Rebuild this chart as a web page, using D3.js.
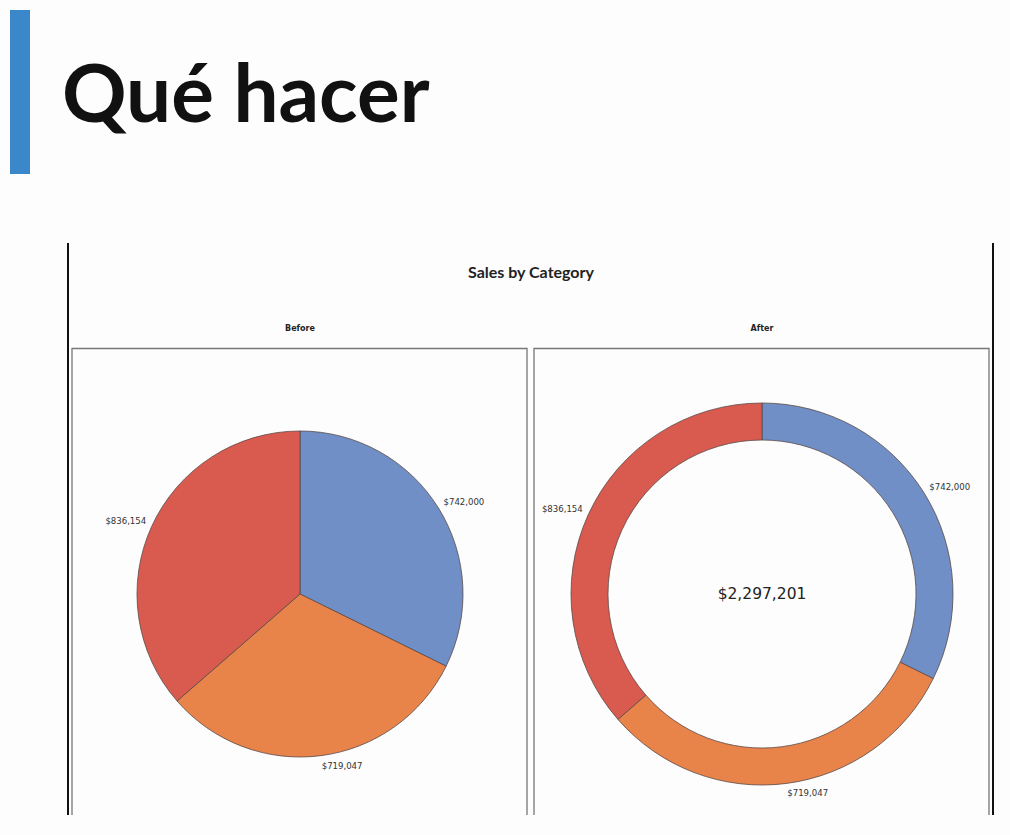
<!DOCTYPE html>
<html>
<head>
<meta charset="utf-8">
<script src="https://cdn.jsdelivr.net/npm/d3@7"></script>
<style>
  body { margin: 0; background: #fdfdfd; }
  svg { display: block; }
</style>
</head>
<body>
<svg id="chart" width="1010" height="835"></svg>
<script>
// data
const categories = ['A', 'B', 'C']
const sales = [742000, 719047, 836154]
const sliceColors = ['#6f8fc6', '#e8834a', '#d95a4e']
const panelTitles = ['Before', 'After']

const fmt = d3.format('$,')
const total = d3.sum(sales)

const svg = d3.select('#chart')

// slide header
svg.append('rect').attr('x', 10).attr('y', 10).attr('width', 20).attr('height', 164).attr('fill', '#3a88c9')
svg.append('text').attr('x', 62).attr('y', 122)
	.attr('font-family', 'Lato').attr('font-weight', 700).attr('font-size', 80)
	.attr('fill', '#111').text('Qué hacer')

// dashboard frame
svg.append('line').attr('x1', 68).attr('x2', 68).attr('y1', 243).attr('y2', 815).attr('stroke', '#111').attr('stroke-width', 2)
svg.append('line').attr('x1', 993).attr('x2', 993).attr('y1', 243).attr('y2', 815).attr('stroke', '#111').attr('stroke-width', 2)

svg.append('text').attr('x', 531).attr('y', 278).attr('text-anchor', 'middle')
	.attr('font-family', 'Lato').attr('font-weight', 700).attr('font-size', 16)
	.attr('fill', '#222').text('Sales by Category')

const panels = [
	{ title: panelTitles[0], x: 72, cx: 300, r: 163, inner: 0, center: false },
	{ title: panelTitles[1], x: 534, cx: 762, r: 191, inner: 154, center: true }
]
const cy = 594

const pie = d3.pie().sort(null).value((d) => d)

panels.forEach((p) => {
	svg.append('text').attr('x', p.cx).attr('y', 331).attr('text-anchor', 'middle')
		.attr('font-family', 'DejaVu Sans').attr('font-weight', 700).attr('font-size', 8)
		.attr('fill', '#222').text(p.title)

	// panel box, open at the bottom
	svg.append('path')
		.attr('d', `M${p.x},815 V348.5 H${p.x + 455} V815`)
		.attr('fill', 'none').attr('stroke', '#777').attr('stroke-width', 1.3)

	const g = svg.append('g').attr('transform', `translate(${p.cx},${cy})`)
	const arc = d3.arc().innerRadius(p.inner).outerRadius(p.r)
	const arcs = pie(sales)

	g.selectAll('path.slice').data(arcs).enter().append('path')
		.attr('class', 'slice')
		.attr('d', arc)
		.attr('fill', (d, i) => sliceColors[i])
		.attr('stroke', '#5a4a48').attr('stroke-width', 0.8)

	// labels just outside the ring, at the slice's mid angle
	const labelArc = d3.arc().innerRadius(p.r + 6).outerRadius(p.r + 6)
	const mid = (d) => (d.startAngle + d.endAngle) / 2
	g.selectAll('text.lbl').data(arcs).enter().append('text')
		.attr('class', 'lbl')
		.attr('transform', (d) => {
			const c = labelArc.centroid(d)
			return `translate(${c[0]},${c[1]})`
		})
		.attr('text-anchor', (d) => Math.sin(mid(d)) < -0.3 ? 'end' : 'start')
		.attr('dy', (d) => Math.cos(mid(d)) < 0 ? '0.75em' : '0')
		.attr('font-family', 'Liberation Sans Narrow, DejaVu Sans Condensed').attr('font-size', 9.5)
		.attr('fill', '#333')
		.text((d) => fmt(d.data))

	if (p.center) {
		g.append('text').attr('text-anchor', 'middle').attr('dy', '0.35em')
			.attr('font-family', 'DejaVu Sans').attr('font-size', 15.5)
			.attr('fill', '#222').text(fmt(total))
	}
})
</script>
</body>
</html>
